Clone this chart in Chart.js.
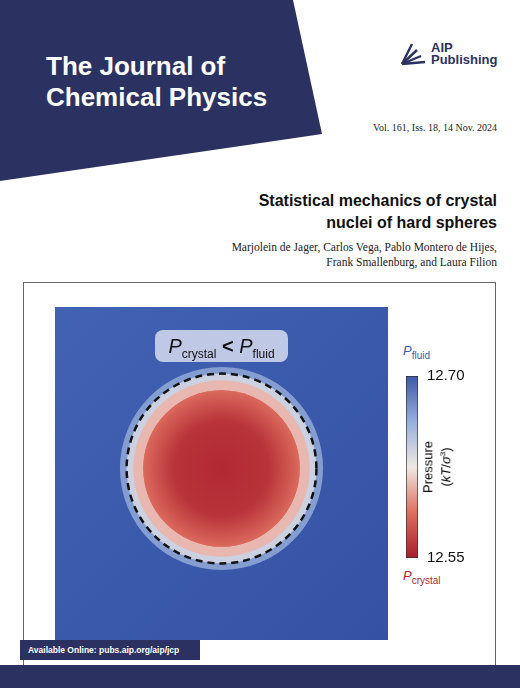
<!DOCTYPE html>
<html><head><meta charset="utf-8">
<script src="https://cdn.jsdelivr.net/npm/chart.js@4.4.1/dist/chart.umd.min.js"></script>
<style>
body{margin:0;width:520px;height:688px;position:relative;background:#fff;font-family:"Liberation Sans",Arial,sans-serif;overflow:hidden}
#banner{position:absolute;left:0;top:0}
.t{position:absolute;color:#fff;font-weight:bold;font-size:26px;line-height:31px;left:46px;top:51px}
.serif{font-family:"Liberation Serif","Times New Roman",serif;color:#222}
#box{position:absolute;left:23px;top:282px;width:473px;height:385px;border:1px solid #666;box-sizing:border-box}
#sim{position:absolute;left:55px;top:307px;width:333px;height:333px}
#cb{position:absolute;left:398px;top:366px;width:90px;height:202px}
#foot{position:absolute;left:0;top:665px;width:520px;height:23px;background:#2b3262}
#avail{position:absolute;left:20px;top:640px;width:180px;height:20px;background:#2b3262;color:#fff;font-size:8.5px;font-weight:bold;line-height:20px;padding-left:8px;box-sizing:border-box}
</style></head><body>
<svg id="banner" width="520" height="190"><polygon points="0,0 293,0 322,134 0,181" fill="#2b3262"/></svg>
<div class="t">The Journal of<br>Chemical Physics</div>
<svg style="position:absolute;left:400px;top:42px" width="30" height="24"><g stroke="#2b3262" stroke-width="2.4"><line x1="2" y1="22" x2="12" y2="2"/><line x1="2" y1="22" x2="17" y2="8"/><line x1="2" y1="22" x2="21" y2="14"/><line x1="2" y1="22" x2="25" y2="20"/></g></svg>
<div style="position:absolute;left:431px;top:42px;color:#2b3262;font-weight:bold;font-size:13px;line-height:12px">AIP<br>Publishing</div>
<div class="serif" style="position:absolute;right:23px;top:122px;font-size:10px">Vol. 161, Iss. 18, 14 Nov. 2024</div>
<div style="position:absolute;right:23px;top:190px;font-size:16px;font-weight:bold;text-align:right;line-height:22px;color:#111">Statistical mechanics of crystal<br>nuclei of hard spheres</div>
<div class="serif" style="position:absolute;right:23px;top:240px;font-size:11.5px;text-align:right;line-height:15px">Marjolein de Jager, Carlos Vega, Pablo Montero de Hijes,<br>Frank Smallenburg, and Laura Filion</div>
<div id="box"></div>
<div id="sim"><canvas id="c1"></canvas></div>
<div style="position:absolute;left:155px;top:330px;width:133px;height:32px;background:rgba(235,238,248,0.75);border-radius:8px;font-size:20px;color:#111;line-height:32px;text-align:center"><i>P</i><sub style="font-size:12px">crystal</sub> <b>&lt;</b> <i>P</i><sub style="font-size:12px">fluid</sub></div>
<div style="position:absolute;left:403px;top:343px;color:#3b5aa8;font-size:13px"><i>P</i><sub style="font-size:10px">fluid</sub></div>
<div style="position:absolute;left:403px;top:568px;color:#b02530;font-size:13px"><i>P</i><sub style="font-size:10px">crystal</sub></div>
<div id="cb"><canvas id="c2"></canvas></div>
<div style="position:absolute;left:437px;top:467px;transform:translate(-50%,-50%) rotate(-90deg);font-size:13px;text-align:center;line-height:15px;white-space:nowrap">Pressure<br>(<i>kT</i>/<i>σ</i><sup style="font-size:8px">3</sup>)</div>
<div id="foot"></div>
<div id="avail">Available Online: pubs.aip.org/aip/jcp</div>
<script>
// nucleus: ring radii (fraction of image width) and pressure at each ring
const ringRadius=[0.305,0.285,0.265,0.235];
const ringPressure=[12.67,12.64,12.61,12.585];
const corePressure=[12.555];
const nucleusCenter=[{x:0.50,y:0.485}];
const nucleusEdge=[0.285];
const pMin=12.55,pMax=12.70;
const cbTicks=[12.55,12.70];

function pColor(p){const t=Math.max(0,Math.min(1,(p-pMin)/(pMax-pMin)));
  const st=[[0,[170,30,45]],[0.25,[222,110,95]],[0.5,[238,232,228]],[0.75,[150,175,220]],[1,[62,88,168]]];
  let i=0;while(i<st.length-2&&t>st[i+1][0])i++;
  const [t0,a]=st[i],[t1,b]=st[i+1],u=(t-t0)/(t1-t0);
  return `rgb(${a.map((v,k)=>Math.round(v+(b[k]-v)*u)).join(',')})`;}

const rings={id:'rings',beforeDatasetsDraw(ch){const {ctx,chartArea:a,scales:{x,y}}=ch;
  const g=ctx.createLinearGradient(a.left,a.top,a.right,a.bottom);
  g.addColorStop(0,'#4262b3');g.addColorStop(1,'#3551a3');
  ctx.save();ctx.fillStyle=g;ctx.fillRect(a.left,a.top,a.width,a.height);
  const c=nucleusCenter[0],cx=x.getPixelForValue(c.x),cy=y.getPixelForValue(c.y);
  const px=r=>x.getPixelForValue(r)-x.getPixelForValue(0);
  ringRadius.forEach((r,i)=>{const R=px(r);
    ctx.beginPath();ctx.arc(cx,cy,R,0,Math.PI*2);ctx.fillStyle=pColor(ringPressure[i]);ctx.fill();});
  const Rc=px(ringRadius[ringRadius.length-1]);
  const rg=ctx.createRadialGradient(cx,cy,0,cx,cy,Rc);
  rg.addColorStop(0,pColor(corePressure[0]));rg.addColorStop(0.6,pColor(corePressure[0]+0.005));rg.addColorStop(1,pColor(ringPressure[ringPressure.length-1]));
  ctx.beginPath();ctx.arc(cx,cy,Rc,0,Math.PI*2);ctx.fillStyle=rg;ctx.fill();
  ctx.beginPath();ctx.arc(cx,cy,px(nucleusEdge[0]),0,Math.PI*2);ctx.setLineDash([7,5]);ctx.lineWidth=2.5;ctx.strokeStyle='#111';ctx.stroke();
  ctx.restore();}};
new Chart(document.getElementById('c1'),{type:'scatter',
  data:{datasets:[{data:nucleusCenter,pointRadius:0}]},
  options:{responsive:true,maintainAspectRatio:false,animation:false,layout:{padding:0},
    plugins:{legend:{display:false},tooltip:{enabled:false}},
    scales:{x:{min:0,max:1,display:false},y:{min:0,max:1,reverse:true,display:false}}},
  plugins:[rings]});

new Chart(document.getElementById('c2'),{type:'bar',
  data:{labels:['P'],datasets:[{data:[[pMin,pMax]],borderSkipped:false,barPercentage:1,categoryPercentage:1,
    borderColor:'#333',borderWidth:1,
    backgroundColor(ctx){const a=ctx.chart.chartArea;if(!a)return '#888';
      const g=ctx.chart.ctx.createLinearGradient(0,a.bottom,0,a.top);
      [0,0.25,0.5,0.75,1].forEach(t=>g.addColorStop(t,pColor(pMin+t*(pMax-pMin))));return g;}}]},
  options:{responsive:true,maintainAspectRatio:false,animation:false,
    layout:{padding:{left:8,right:0,top:8,bottom:8}},
    plugins:{legend:{display:false},tooltip:{enabled:false}},
    scales:{x:{display:false},
      y:{position:'right',min:pMin,max:pMax,afterBuildTicks(s){s.ticks=cbTicks.map(v=>({value:v}))},
        afterFit(s){s.width=70},
        grid:{display:false},border:{display:false},
        ticks:{color:'#111',font:{size:15,family:'Liberation Sans'},padding:1,callback:v=>v.toFixed(2)}}}}});
</script>
</body></html>
